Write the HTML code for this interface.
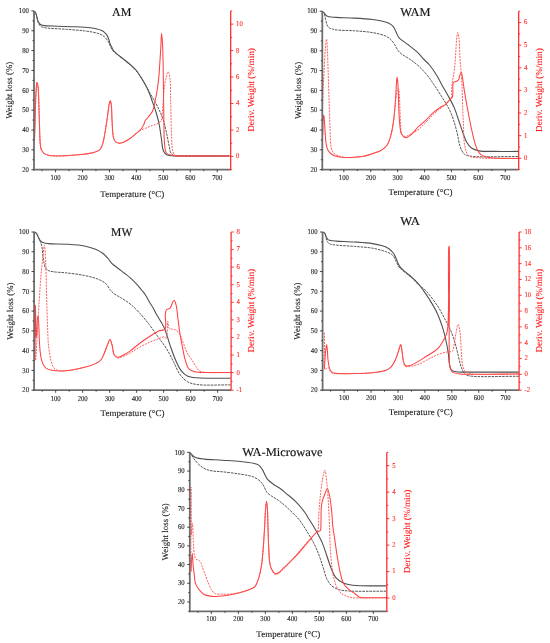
<!DOCTYPE html>
<html><head><meta charset="utf-8"><title>TGA</title>
<style>
html,body{margin:0;padding:0;background:#fff;}
body{width:550px;height:643px;overflow:hidden;}
svg{display:block;}
text{font-family:"Liberation Serif", "DejaVu Serif", serif;text-rendering:geometricPrecision;}
.tl{font-size:7.5px;fill:#222;stroke:#222;stroke-width:0.12px;}
.tr{font-size:7.5px;fill:#ff2020;stroke:#ff3030;stroke-width:0.1px;}
.ti{font-size:12px;fill:#111;stroke:#111;stroke-width:0.15px;}
.al{font-size:8.9px;letter-spacing:0.08px;fill:#1a1a1a;stroke:#1a1a1a;stroke-width:0.1px;}
.ar{font-size:9.2px;fill:#ff2020;stroke:#ff2020;stroke-width:0.1px;}
</style></head>
<body><svg width="550" height="643" viewBox="0 0 550 643">
<path d="M34,11.1C34.33,11.33 34.7,11.46 35,11.8C35.4,12.26 35.7,13.01 36,13.8C36.39,14.83 36.64,16.24 37,17.5C37.38,18.83 37.7,20.5 38.2,21.6C38.58,22.42 39,23.07 39.5,23.6C39.94,24.07 40.36,24.4 41,24.7C41.89,25.12 42.95,25.37 44.5,25.6C47.41,26.04 52.66,26.01 57.3,26.2C62.83,26.42 69.78,26.51 75.5,26.8C80.61,27.06 86.05,27.33 90,27.8C92.76,28.13 95.01,28.51 97,29C98.53,29.38 99.74,29.74 101,30.3C102.24,30.85 103.47,31.41 104.5,32.3C105.59,33.25 106.57,34.65 107.3,35.9C107.97,37.06 108.36,38.26 108.8,39.5C109.26,40.79 109.53,42.25 110,43.5C110.44,44.67 110.94,45.68 111.5,46.8C112.1,48.01 112.71,49.42 113.5,50.5C114.23,51.5 114.91,52.1 116,53.1C117.76,54.7 120.88,56.96 123.3,58.9C125.71,60.83 128.26,62.71 130.5,64.7C132.61,66.58 134.55,68.25 136.4,70.5C138.49,73.04 140.47,76.49 142.2,79.3C143.73,81.79 145.07,84.09 146.3,86.5C147.49,88.82 148.57,91.19 149.5,93.5C150.38,95.69 151.06,97.93 151.8,100C152.49,101.91 153.11,103.52 153.8,105.5C154.6,107.8 155.49,110.25 156.3,113C157.27,116.3 158.3,120.09 159.1,124C160,128.37 160.55,133.41 161.3,138C162.02,142.44 162.13,148.19 163.5,151.1C164.33,152.87 165.33,154.01 166.7,154.8C168.14,155.63 170.04,155.59 172,155.8C174.38,156.05 176.2,155.95 180,156C189.44,156.12 212.87,156 229.3,156" fill="none" stroke="#505050" stroke-width="1.1" stroke-linejoin="round"/>
<path d="M34,11.1C34.33,11.33 34.7,11.46 35,11.8C35.4,12.26 35.7,13 36,13.8C36.4,14.89 36.65,16.41 37,17.8C37.38,19.3 37.7,21.2 38.2,22.5C38.58,23.49 38.99,24.3 39.5,25C39.94,25.6 40.36,26.09 41,26.5C41.79,27 42.9,27.32 44,27.6C45.27,27.92 46.3,28.01 48.2,28.2C52.13,28.6 60.34,28.85 66.4,29.3C72.44,29.75 79.78,30.35 84.5,30.9C87.55,31.26 89.72,31.58 92,32C93.93,32.36 95.71,32.72 97.3,33.2C98.66,33.61 99.81,34.01 101,34.6C102.21,35.2 103.39,35.82 104.5,36.8C105.82,37.98 107.15,39.68 108.2,41.4C109.31,43.23 110,45.77 110.9,47.5C111.6,48.85 112.1,49.97 113,51C113.95,52.08 115.15,52.7 116.5,53.8C118.4,55.34 121,57.52 123.3,59.4C125.66,61.32 128.26,63.21 130.5,65.2C132.61,67.08 134.55,68.77 136.4,71C138.48,73.5 140.45,76.84 142.2,79.6C143.78,82.08 145.14,84.43 146.5,86.8C147.8,89.06 148.94,91.29 150.2,93.5C151.45,95.69 152.67,97.59 154,100C155.61,102.91 157.54,106.41 159.1,109.8C160.71,113.3 162.26,116.86 163.5,120.7C164.82,124.8 165.73,129.36 166.7,133.7C167.66,138.02 168.45,143.11 169.3,146.7C169.91,149.28 170.03,151.82 171.1,153.3C171.9,154.4 173.01,154.97 174.3,155.4C175.87,155.93 177.16,155.69 180,155.8C188.34,156.11 212.87,155.93 229.3,156" fill="none" stroke="#585858" stroke-width="1.0" stroke-linejoin="round" stroke-dasharray="2.6,0.9"/>
<path d="M34.5,140C34.7,133.33 34.91,126.47 35.1,120C35.28,113.89 35.38,107.8 35.6,102.2C35.79,97.2 35.98,91.67 36.3,88C36.5,85.67 36.68,82.33 37,82.3C37.22,82.28 37.59,83.91 37.8,85C38.11,86.59 38.23,88.39 38.4,91C38.72,95.87 38.9,105.84 39.1,112C39.26,116.85 39.35,120.38 39.5,125C39.67,130.29 39.78,137.78 40.1,142C40.29,144.51 40.39,146.43 40.8,148C41.08,149.07 41.44,149.79 41.9,150.6C42.35,151.39 42.89,152.2 43.5,152.8C44.06,153.35 44.61,153.71 45.4,154.1C46.5,154.64 47.97,155.19 49.6,155.5C51.76,155.91 54.19,155.9 57.3,155.9C62.08,155.91 69.45,155.55 75.5,155C81.55,154.45 89.18,153.93 93.6,152.6C96.36,151.77 98.5,150.98 100,149.5C101.33,148.19 101.77,146.6 102.5,144.5C103.6,141.33 104.3,136.47 105.1,132C106.02,126.89 106.87,120.51 107.6,115.5C108.21,111.32 108.61,106.63 109.2,104C109.52,102.59 109.87,100.8 110.2,100.8C110.53,100.8 110.93,102.48 111.2,104C111.83,107.51 111.71,116.09 112.1,121.8C112.46,127.1 112.52,133.59 113.4,137.1C113.89,139.06 114.29,140.48 115.3,141.5C116.24,142.45 117.81,143.06 119.1,143.2C120.35,143.33 121.51,142.9 122.9,142.4C124.8,141.71 127.24,140.36 129.3,139C131.48,137.56 133.62,135.55 135.6,133.9C137.4,132.39 139.29,131.14 140.7,129.5C142.03,127.95 143.13,126.03 143.9,124.4C144.54,123.05 144.51,121.7 145.2,120.5C145.94,119.22 147.22,118.36 148.3,117C149.66,115.3 151.48,113.43 152.6,111C153.98,107.99 154.49,103.76 155.3,100C156.14,96.1 156.9,91.98 157.5,88C158.09,84.11 158.51,80.49 158.9,76.4C159.33,71.82 159.58,66.66 159.9,61.8C160.22,56.96 160.51,52.09 160.8,47.3C161.08,42.59 161.28,33.3 161.6,33.3C161.89,33.3 162.36,40.73 162.6,45C162.89,50.14 162.97,55.97 163.1,62C163.25,68.86 163.31,77.25 163.4,84C163.48,89.76 163.52,94.24 163.6,100C163.69,106.75 163.75,114.75 163.9,122C164.05,129.08 163.85,137.31 164.5,143C164.95,146.97 164.73,150.96 166.5,153C167.99,154.71 170.68,154.88 173.3,155.4C176.63,156.06 179.84,155.87 185,156C195.1,156.26 214.87,156 229.8,156" fill="none" stroke="#ff4040" stroke-width="1.05" stroke-linejoin="round"/>
<path d="M34.5,140C34.7,133.33 34.91,126.47 35.1,120C35.28,113.89 35.38,107.8 35.6,102.2C35.79,97.2 35.98,91.67 36.3,88C36.5,85.67 36.68,82.33 37,82.3C37.22,82.28 37.59,83.91 37.8,85C38.11,86.59 38.23,88.39 38.4,91C38.72,95.87 38.9,105.84 39.1,112C39.26,116.85 39.35,120.38 39.5,125C39.67,130.29 39.78,137.78 40.1,142C40.29,144.51 40.39,146.43 40.8,148C41.08,149.07 41.44,149.79 41.9,150.6C42.35,151.39 42.89,152.2 43.5,152.8C44.06,153.35 44.61,153.71 45.4,154.1C46.5,154.64 47.97,155.19 49.6,155.5C51.76,155.91 54.19,155.9 57.3,155.9C62.08,155.91 69.45,155.55 75.5,155C81.55,154.45 89.18,153.93 93.6,152.6C96.36,151.77 98.5,150.98 100,149.5C101.33,148.19 101.77,146.6 102.5,144.5C103.6,141.33 104.3,136.47 105.1,132C106.02,126.89 106.87,120.51 107.6,115.5C108.21,111.32 108.61,106.63 109.2,104C109.52,102.59 109.87,100.8 110.2,100.8C110.53,100.8 110.93,102.48 111.2,104C111.83,107.51 111.71,116.09 112.1,121.8C112.46,127.1 112.52,133.59 113.4,137.1C113.89,139.06 114.29,140.48 115.3,141.5C116.24,142.45 117.81,143.06 119.1,143.2C120.35,143.33 121.51,142.9 122.9,142.4C124.8,141.71 127.24,140.36 129.3,139C131.48,137.56 133.59,135.44 135.6,133.9C137.37,132.54 138.94,131.17 140.7,130.2C142.34,129.3 144.01,128.93 145.8,128.2C147.82,127.38 150.32,126.14 152.2,125.5C153.61,125.02 154.85,125.02 156,124.5C157.1,124 158.08,123.17 159,122.5C159.83,121.9 160.74,121.69 161.3,120.7C162.28,118.98 162.04,115.56 162.4,112C162.97,106.38 163.43,96.21 164.1,90.2C164.58,85.93 164.91,82.57 165.7,79.3C166.38,76.5 167.58,71.66 168.3,71.7C169.01,71.74 169.59,76.09 170,79.3C170.68,84.65 170.47,93.03 170.7,101C170.98,110.79 171.04,124.51 171.5,133.7C171.83,140.41 171.6,147.34 172.8,151.1C173.45,153.12 173.93,154.51 175.4,155.4C177.44,156.64 180.62,155.86 185,156C194.45,156.29 214.87,156 229.8,156" fill="none" stroke="#ff5555" stroke-width="0.95" stroke-linejoin="round" stroke-dasharray="2,1.1"/>
<line x1="34" y1="10.9" x2="34" y2="170.6" stroke="#6e6e6e" stroke-width="1.8"/>
<line x1="33.1" y1="169.7" x2="230.7" y2="169.7" stroke="#6e6e6e" stroke-width="1.8"/>
<line x1="31.4" y1="169.7" x2="34" y2="169.7" stroke="#333" stroke-width="0.9"/>
<line x1="32.5" y1="159.77" x2="34" y2="159.77" stroke="#333" stroke-width="0.9"/>
<line x1="31.4" y1="149.85" x2="34" y2="149.85" stroke="#333" stroke-width="0.9"/>
<line x1="32.5" y1="139.92" x2="34" y2="139.92" stroke="#333" stroke-width="0.9"/>
<line x1="31.4" y1="130" x2="34" y2="130" stroke="#333" stroke-width="0.9"/>
<line x1="32.5" y1="120.07" x2="34" y2="120.07" stroke="#333" stroke-width="0.9"/>
<line x1="31.4" y1="110.15" x2="34" y2="110.15" stroke="#333" stroke-width="0.9"/>
<line x1="32.5" y1="100.22" x2="34" y2="100.22" stroke="#333" stroke-width="0.9"/>
<line x1="31.4" y1="90.3" x2="34" y2="90.3" stroke="#333" stroke-width="0.9"/>
<line x1="32.5" y1="80.38" x2="34" y2="80.38" stroke="#333" stroke-width="0.9"/>
<line x1="31.4" y1="70.45" x2="34" y2="70.45" stroke="#333" stroke-width="0.9"/>
<line x1="32.5" y1="60.53" x2="34" y2="60.53" stroke="#333" stroke-width="0.9"/>
<line x1="31.4" y1="50.6" x2="34" y2="50.6" stroke="#333" stroke-width="0.9"/>
<line x1="32.5" y1="40.68" x2="34" y2="40.68" stroke="#333" stroke-width="0.9"/>
<line x1="31.4" y1="30.75" x2="34" y2="30.75" stroke="#333" stroke-width="0.9"/>
<line x1="32.5" y1="20.83" x2="34" y2="20.83" stroke="#333" stroke-width="0.9"/>
<line x1="31.4" y1="10.9" x2="34" y2="10.9" stroke="#333" stroke-width="0.9"/>
<text x="28.9" y="171.9" text-anchor="end" class="tl" textLength="6.7" lengthAdjust="spacingAndGlyphs">20</text>
<text x="28.9" y="152.05" text-anchor="end" class="tl" textLength="6.7" lengthAdjust="spacingAndGlyphs">30</text>
<text x="28.9" y="132.2" text-anchor="end" class="tl" textLength="6.7" lengthAdjust="spacingAndGlyphs">40</text>
<text x="28.9" y="112.35" text-anchor="end" class="tl" textLength="6.7" lengthAdjust="spacingAndGlyphs">50</text>
<text x="28.9" y="92.5" text-anchor="end" class="tl" textLength="6.7" lengthAdjust="spacingAndGlyphs">60</text>
<text x="28.9" y="72.65" text-anchor="end" class="tl" textLength="6.7" lengthAdjust="spacingAndGlyphs">70</text>
<text x="28.9" y="52.8" text-anchor="end" class="tl" textLength="6.7" lengthAdjust="spacingAndGlyphs">80</text>
<text x="28.9" y="32.95" text-anchor="end" class="tl" textLength="6.7" lengthAdjust="spacingAndGlyphs">90</text>
<text x="28.9" y="13.1" text-anchor="end" class="tl" textLength="10.05" lengthAdjust="spacingAndGlyphs">100</text>
<line x1="42.08" y1="169.7" x2="42.08" y2="171.2" stroke="#333" stroke-width="0.9"/>
<line x1="55.56" y1="169.7" x2="55.56" y2="172.3" stroke="#333" stroke-width="0.9"/>
<text x="55.56" y="180" text-anchor="middle" class="tl" textLength="10.05" lengthAdjust="spacingAndGlyphs">100</text>
<line x1="69.03" y1="169.7" x2="69.03" y2="171.2" stroke="#333" stroke-width="0.9"/>
<line x1="82.5" y1="169.7" x2="82.5" y2="172.3" stroke="#333" stroke-width="0.9"/>
<text x="82.5" y="180" text-anchor="middle" class="tl" textLength="10.05" lengthAdjust="spacingAndGlyphs">200</text>
<line x1="95.97" y1="169.7" x2="95.97" y2="171.2" stroke="#333" stroke-width="0.9"/>
<line x1="109.45" y1="169.7" x2="109.45" y2="172.3" stroke="#333" stroke-width="0.9"/>
<text x="109.45" y="180" text-anchor="middle" class="tl" textLength="10.05" lengthAdjust="spacingAndGlyphs">300</text>
<line x1="122.92" y1="169.7" x2="122.92" y2="171.2" stroke="#333" stroke-width="0.9"/>
<line x1="136.39" y1="169.7" x2="136.39" y2="172.3" stroke="#333" stroke-width="0.9"/>
<text x="136.39" y="180" text-anchor="middle" class="tl" textLength="10.05" lengthAdjust="spacingAndGlyphs">400</text>
<line x1="149.86" y1="169.7" x2="149.86" y2="171.2" stroke="#333" stroke-width="0.9"/>
<line x1="163.34" y1="169.7" x2="163.34" y2="172.3" stroke="#333" stroke-width="0.9"/>
<text x="163.34" y="180" text-anchor="middle" class="tl" textLength="10.05" lengthAdjust="spacingAndGlyphs">500</text>
<line x1="176.81" y1="169.7" x2="176.81" y2="171.2" stroke="#333" stroke-width="0.9"/>
<line x1="190.28" y1="169.7" x2="190.28" y2="172.3" stroke="#333" stroke-width="0.9"/>
<text x="190.28" y="180" text-anchor="middle" class="tl" textLength="10.05" lengthAdjust="spacingAndGlyphs">600</text>
<line x1="203.75" y1="169.7" x2="203.75" y2="171.2" stroke="#333" stroke-width="0.9"/>
<line x1="217.23" y1="169.7" x2="217.23" y2="172.3" stroke="#333" stroke-width="0.9"/>
<text x="217.23" y="180" text-anchor="middle" class="tl" textLength="10.05" lengthAdjust="spacingAndGlyphs">700</text>
<line x1="230.7" y1="10.9" x2="230.7" y2="169.7" stroke="#ff2020" stroke-width="1.2"/>
<line x1="230.7" y1="169.7" x2="232.2" y2="169.7" stroke="#ff2020" stroke-width="0.9"/>
<line x1="230.7" y1="156.47" x2="233.3" y2="156.47" stroke="#ff2020" stroke-width="0.9"/>
<line x1="230.7" y1="143.23" x2="232.2" y2="143.23" stroke="#ff2020" stroke-width="0.9"/>
<line x1="230.7" y1="130" x2="233.3" y2="130" stroke="#ff2020" stroke-width="0.9"/>
<line x1="230.7" y1="116.77" x2="232.2" y2="116.77" stroke="#ff2020" stroke-width="0.9"/>
<line x1="230.7" y1="103.53" x2="233.3" y2="103.53" stroke="#ff2020" stroke-width="0.9"/>
<line x1="230.7" y1="90.3" x2="232.2" y2="90.3" stroke="#ff2020" stroke-width="0.9"/>
<line x1="230.7" y1="77.07" x2="233.3" y2="77.07" stroke="#ff2020" stroke-width="0.9"/>
<line x1="230.7" y1="63.83" x2="232.2" y2="63.83" stroke="#ff2020" stroke-width="0.9"/>
<line x1="230.7" y1="50.6" x2="233.3" y2="50.6" stroke="#ff2020" stroke-width="0.9"/>
<line x1="230.7" y1="37.37" x2="232.2" y2="37.37" stroke="#ff2020" stroke-width="0.9"/>
<line x1="230.7" y1="24.13" x2="233.3" y2="24.13" stroke="#ff2020" stroke-width="0.9"/>
<line x1="230.7" y1="10.9" x2="232.2" y2="10.9" stroke="#ff2020" stroke-width="0.9"/>
<text x="236.1" y="158.37" class="tr" textLength="3.35" lengthAdjust="spacingAndGlyphs">0</text>
<text x="236.1" y="131.9" class="tr" textLength="3.35" lengthAdjust="spacingAndGlyphs">2</text>
<text x="236.1" y="105.43" class="tr" textLength="3.35" lengthAdjust="spacingAndGlyphs">4</text>
<text x="236.1" y="78.97" class="tr" textLength="3.35" lengthAdjust="spacingAndGlyphs">6</text>
<text x="236.1" y="52.5" class="tr" textLength="3.35" lengthAdjust="spacingAndGlyphs">8</text>
<text x="236.1" y="26.03" class="tr" textLength="6.7" lengthAdjust="spacingAndGlyphs">10</text>
<text x="121.7" y="16.3" text-anchor="middle" class="ti" textLength="19.3" lengthAdjust="spacingAndGlyphs">AM</text>
<text transform="translate(12.4,90.3) rotate(-90)" text-anchor="middle" class="al" textLength="57.1" lengthAdjust="spacingAndGlyphs">Weight loss (%)</text>
<text transform="translate(253.7,90) rotate(-90)" text-anchor="middle" class="ar" textLength="83.6" lengthAdjust="spacingAndGlyphs">Deriv. Weight (%/min)</text>
<text x="132.35" y="196.7" text-anchor="middle" class="al" textLength="64" lengthAdjust="spacingAndGlyphs">Temperature (&#176;C)</text>
<path d="M322.3,11.3C323,11.93 323.75,12.51 324.4,13.2C325.06,13.9 325.46,14.9 326.2,15.5C326.95,16.11 327.74,16.49 328.9,16.8C330.71,17.29 333.22,17.22 336.2,17.4C340.9,17.68 348.35,17.75 354.4,18.1C360.45,18.45 367.5,18.9 372.5,19.5C376.06,19.93 378.75,20.34 381.6,21C384.19,21.6 386.83,22.13 388.9,23.2C390.71,24.14 392.29,25.31 393.5,26.8C394.74,28.33 395.3,30.48 396.2,32.3C397.1,34.11 397.67,36.18 398.9,37.7C400.11,39.21 401.89,40.17 403.5,41.4C405.21,42.71 406.89,43.75 408.9,45.3C411.57,47.36 415.41,50.32 418,52.8C420.18,54.88 421.69,56.97 423.6,59C425.52,61.04 427.51,62.6 429.5,65C432,68.03 434.94,72.46 437.1,76C438.99,79.09 440.15,81.83 441.9,85C443.9,88.61 446.42,92.65 448.5,96.5C450.55,100.28 452.58,103.89 454.3,107.9C456.11,112.13 457.51,117.01 459,121.3C460.37,125.25 461.56,129.08 462.9,132.7C464.14,136.05 465.1,139.62 466.7,142.3C468.06,144.58 469.5,146.58 471.5,148C473.59,149.49 476.07,150.29 479.1,150.9C483.26,151.74 488.74,151.31 494.4,151.4C501.46,151.52 510.27,151.4 518.2,151.4" fill="none" stroke="#505050" stroke-width="1.1" stroke-linejoin="round"/>
<path d="M322.3,11.3C323,12.23 323.87,12.95 324.4,14.1C325.07,15.55 325.15,17.7 325.6,19.5C326.05,21.33 326.43,23.53 327.1,25C327.6,26.11 328.06,27.04 328.9,27.7C329.81,28.42 331.28,28.63 332.5,29C333.72,29.37 334.48,29.65 336.2,29.9C339.95,30.44 348.35,30.35 354.4,30.8C360.45,31.25 367.02,31.63 372.5,32.6C377.17,33.43 382.03,34.44 385.3,35.9C387.59,36.92 389.16,38.09 390.7,39.5C392.17,40.84 393.24,42.39 394.4,44.1C395.69,46.01 396.67,48.74 398,50.5C399.11,51.96 400.11,52.92 401.6,54.1C403.54,55.63 406.38,56.87 408.9,58.6C411.81,60.6 415.04,62.84 418,65.5C421.26,68.43 424.71,72.2 427.5,75.6C430.05,78.7 431.87,81.56 434.2,85C436.94,89.04 440.15,94.09 442.8,98.4C445.21,102.33 447.69,106.09 449.5,109.8C451.1,113.07 452.11,115.91 453.3,119.4C454.67,123.44 455.98,128.24 457.1,132.7C458.21,137.14 458.67,142.33 460,146.1C461.04,149.07 462.01,152.05 463.8,153.7C465.32,155.1 466.59,155.42 469.5,156C477.7,157.64 501.97,156.4 518.2,156.6" fill="none" stroke="#585858" stroke-width="1.0" stroke-linejoin="round" stroke-dasharray="2.6,0.9"/>
<path d="M322.8,135C322.93,129.33 322.83,121.34 323.2,118C323.36,116.58 323.62,114.99 323.8,115C324.08,115.01 324.29,119.49 324.5,122C324.74,124.9 324.86,128.07 325.1,131.4C325.38,135.18 325.47,140.03 326.1,143.5C326.59,146.21 326.97,148.67 328.1,150.6C329.1,152.31 330.56,153.69 332.2,154.7C333.93,155.76 336.17,156.23 338.3,156.7C340.53,157.19 342.81,157.39 345.3,157.5C348.13,157.63 351.37,157.5 354.4,157.3C357.44,157.1 360.5,156.89 363.5,156.3C366.53,155.7 369.52,154.72 372.5,153.7C375.55,152.66 379.07,151.7 381.6,150.1C383.82,148.7 385.63,147.15 387.1,145C388.78,142.55 389.7,139.34 390.7,135.9C391.93,131.68 392.75,126.53 393.5,121.4C394.33,115.7 394.82,109.35 395.3,103.2C395.79,96.89 396.02,88.82 396.4,84C396.63,81.09 396.85,77 397.1,77C397.35,77 397.64,80.74 397.9,84C398.49,91.52 398.55,112.24 399.5,121.4C400.06,126.77 400.14,131.3 401.6,134.1C402.53,135.87 403.86,137.48 405.3,137.7C406.86,137.94 408.89,136.37 410.7,135C413.12,133.17 415.47,129.48 418,127C420.44,124.6 423.09,122.64 425.6,120.3C428.19,117.88 430.66,114.97 433.3,112.7C435.77,110.57 438.7,108.37 440.9,107C442.43,106.04 443.66,105.92 445,104.9C446.68,103.61 448.52,100.94 449.9,99.5C450.86,98.49 451.81,98.33 452.4,97C453.55,94.39 452.29,85.5 453,83.4C453.24,82.68 453.46,82.41 453.9,82.1C454.43,81.73 455.37,81.85 456.1,81.5C456.94,81.1 458.02,80.54 458.6,79.7C459.26,78.75 459.14,77.14 459.6,75.9C460.07,74.63 460.94,72.14 461.4,72.2C461.91,72.27 462.05,75.16 462.4,77.2C462.95,80.4 463.5,85.18 464.2,89.6C465,94.69 465.91,100.09 467,106C468.29,113.01 469.98,122.05 471.5,128.9C472.75,134.53 473.82,139.88 475.3,144.2C476.44,147.53 477.32,150.68 479.1,152.8C480.62,154.61 482.54,155.72 484.8,156.6C487.49,157.65 490.46,157.76 494.4,158.1C500.62,158.63 510.53,158.37 518.6,158.5" fill="none" stroke="#ff4040" stroke-width="1.05" stroke-linejoin="round"/>
<path d="M322.5,107C322.7,101.6 322.85,96.5 323.1,90.8C323.38,84.41 323.73,77.28 324.1,70.5C324.47,63.68 324.81,55.76 325.3,50C325.65,45.79 326.15,39.1 326.5,39.1C326.85,39.1 327.15,45.79 327.4,50C327.74,55.76 327.85,62.99 328.1,70.5C328.41,79.66 328.75,90.84 329.1,101C329.45,111.14 329.78,122.85 330.2,131.4C330.51,137.65 330.13,143.57 331.2,147.6C331.89,150.21 332.83,152.34 334.2,153.7C335.32,154.82 336.72,155.12 338.3,155.7C340.29,156.43 342.79,157.21 345.3,157.5C348.11,157.82 351.37,157.5 354.4,157.3C357.44,157.1 360.5,156.89 363.5,156.3C366.53,155.7 369.52,154.72 372.5,153.7C375.55,152.66 379.07,151.7 381.6,150.1C383.82,148.7 385.63,147.15 387.1,145C388.78,142.55 389.7,139.34 390.7,135.9C391.93,131.68 392.75,126.53 393.5,121.4C394.33,115.7 394.71,108.39 395.3,103.2C395.74,99.31 396.11,95.61 396.6,93C396.91,91.35 397.05,89.58 397.6,89C397.88,88.71 398.34,88.53 398.6,88.7C399.19,89.08 399.11,91.81 399.3,94C399.61,97.55 399.69,103.18 399.9,108C400.12,113.16 400.27,119.23 400.6,124C400.87,127.87 400.27,132.5 401.6,134.5C402.44,135.76 403.94,136.46 405.3,136.5C406.92,136.55 408.78,134.98 410.7,134C412.97,132.84 415.65,131.65 418,129.9C420.64,127.92 423.08,125.04 425.6,122.5C428.18,119.91 430.68,116.97 433.3,114.5C435.79,112.16 438.73,109.72 440.9,108C442.45,106.77 443.62,106.19 445,105C446.62,103.6 448.81,101.25 449.9,100C450.5,99.31 450.87,99.19 451.2,98.3C451.95,96.26 451.51,90.44 451.8,87.1C452.04,84.37 452.34,81.92 452.7,79.7C452.99,77.86 453.39,76.66 453.7,74.7C454.14,71.97 454.56,68.45 454.9,64.8C455.32,60.32 455.57,54.56 455.9,49.8C456.2,45.47 456.36,40.58 456.8,37.4C457.08,35.38 457.45,32.5 457.8,32.5C458.15,32.5 458.6,35.22 458.9,37.4C459.48,41.6 459.52,50.1 459.9,56.1C460.26,61.67 460.73,66.94 461.1,72.2C461.46,77.26 461.85,81.91 462.1,87.1C462.37,92.77 462.39,98.93 462.6,104.9C462.82,110.96 463.06,116.76 463.4,123.2C463.78,130.41 463.48,140.2 464.8,146.1C465.68,150.04 466.17,153.61 468.6,155.6C471.3,157.81 475.72,157.39 481,157.9C490.12,158.79 506.07,158.17 518.6,158.3" fill="none" stroke="#ff5555" stroke-width="0.95" stroke-linejoin="round" stroke-dasharray="2,1.1"/>
<line x1="322.3" y1="11.2" x2="322.3" y2="170.5" stroke="#6e6e6e" stroke-width="1.8"/>
<line x1="321.4" y1="169.6" x2="518.7" y2="169.6" stroke="#6e6e6e" stroke-width="1.8"/>
<line x1="319.7" y1="169.6" x2="322.3" y2="169.6" stroke="#333" stroke-width="0.9"/>
<line x1="320.8" y1="159.7" x2="322.3" y2="159.7" stroke="#333" stroke-width="0.9"/>
<line x1="319.7" y1="149.8" x2="322.3" y2="149.8" stroke="#333" stroke-width="0.9"/>
<line x1="320.8" y1="139.9" x2="322.3" y2="139.9" stroke="#333" stroke-width="0.9"/>
<line x1="319.7" y1="130" x2="322.3" y2="130" stroke="#333" stroke-width="0.9"/>
<line x1="320.8" y1="120.1" x2="322.3" y2="120.1" stroke="#333" stroke-width="0.9"/>
<line x1="319.7" y1="110.2" x2="322.3" y2="110.2" stroke="#333" stroke-width="0.9"/>
<line x1="320.8" y1="100.3" x2="322.3" y2="100.3" stroke="#333" stroke-width="0.9"/>
<line x1="319.7" y1="90.4" x2="322.3" y2="90.4" stroke="#333" stroke-width="0.9"/>
<line x1="320.8" y1="80.5" x2="322.3" y2="80.5" stroke="#333" stroke-width="0.9"/>
<line x1="319.7" y1="70.6" x2="322.3" y2="70.6" stroke="#333" stroke-width="0.9"/>
<line x1="320.8" y1="60.7" x2="322.3" y2="60.7" stroke="#333" stroke-width="0.9"/>
<line x1="319.7" y1="50.8" x2="322.3" y2="50.8" stroke="#333" stroke-width="0.9"/>
<line x1="320.8" y1="40.9" x2="322.3" y2="40.9" stroke="#333" stroke-width="0.9"/>
<line x1="319.7" y1="31" x2="322.3" y2="31" stroke="#333" stroke-width="0.9"/>
<line x1="320.8" y1="21.1" x2="322.3" y2="21.1" stroke="#333" stroke-width="0.9"/>
<line x1="319.7" y1="11.2" x2="322.3" y2="11.2" stroke="#333" stroke-width="0.9"/>
<text x="317.2" y="171.8" text-anchor="end" class="tl" textLength="6.7" lengthAdjust="spacingAndGlyphs">20</text>
<text x="317.2" y="152" text-anchor="end" class="tl" textLength="6.7" lengthAdjust="spacingAndGlyphs">30</text>
<text x="317.2" y="132.2" text-anchor="end" class="tl" textLength="6.7" lengthAdjust="spacingAndGlyphs">40</text>
<text x="317.2" y="112.4" text-anchor="end" class="tl" textLength="6.7" lengthAdjust="spacingAndGlyphs">50</text>
<text x="317.2" y="92.6" text-anchor="end" class="tl" textLength="6.7" lengthAdjust="spacingAndGlyphs">60</text>
<text x="317.2" y="72.8" text-anchor="end" class="tl" textLength="6.7" lengthAdjust="spacingAndGlyphs">70</text>
<text x="317.2" y="53" text-anchor="end" class="tl" textLength="6.7" lengthAdjust="spacingAndGlyphs">80</text>
<text x="317.2" y="33.2" text-anchor="end" class="tl" textLength="6.7" lengthAdjust="spacingAndGlyphs">90</text>
<text x="317.2" y="13.4" text-anchor="end" class="tl" textLength="10.05" lengthAdjust="spacingAndGlyphs">100</text>
<line x1="330.37" y1="169.6" x2="330.37" y2="171.1" stroke="#333" stroke-width="0.9"/>
<line x1="343.82" y1="169.6" x2="343.82" y2="172.2" stroke="#333" stroke-width="0.9"/>
<text x="343.82" y="179.9" text-anchor="middle" class="tl" textLength="10.05" lengthAdjust="spacingAndGlyphs">100</text>
<line x1="357.28" y1="169.6" x2="357.28" y2="171.1" stroke="#333" stroke-width="0.9"/>
<line x1="370.73" y1="169.6" x2="370.73" y2="172.2" stroke="#333" stroke-width="0.9"/>
<text x="370.73" y="179.9" text-anchor="middle" class="tl" textLength="10.05" lengthAdjust="spacingAndGlyphs">200</text>
<line x1="384.18" y1="169.6" x2="384.18" y2="171.1" stroke="#333" stroke-width="0.9"/>
<line x1="397.63" y1="169.6" x2="397.63" y2="172.2" stroke="#333" stroke-width="0.9"/>
<text x="397.63" y="179.9" text-anchor="middle" class="tl" textLength="10.05" lengthAdjust="spacingAndGlyphs">300</text>
<line x1="411.08" y1="169.6" x2="411.08" y2="171.1" stroke="#333" stroke-width="0.9"/>
<line x1="424.54" y1="169.6" x2="424.54" y2="172.2" stroke="#333" stroke-width="0.9"/>
<text x="424.54" y="179.9" text-anchor="middle" class="tl" textLength="10.05" lengthAdjust="spacingAndGlyphs">400</text>
<line x1="437.99" y1="169.6" x2="437.99" y2="171.1" stroke="#333" stroke-width="0.9"/>
<line x1="451.44" y1="169.6" x2="451.44" y2="172.2" stroke="#333" stroke-width="0.9"/>
<text x="451.44" y="179.9" text-anchor="middle" class="tl" textLength="10.05" lengthAdjust="spacingAndGlyphs">500</text>
<line x1="464.89" y1="169.6" x2="464.89" y2="171.1" stroke="#333" stroke-width="0.9"/>
<line x1="478.34" y1="169.6" x2="478.34" y2="172.2" stroke="#333" stroke-width="0.9"/>
<text x="478.34" y="179.9" text-anchor="middle" class="tl" textLength="10.05" lengthAdjust="spacingAndGlyphs">600</text>
<line x1="491.8" y1="169.6" x2="491.8" y2="171.1" stroke="#333" stroke-width="0.9"/>
<line x1="505.25" y1="169.6" x2="505.25" y2="172.2" stroke="#333" stroke-width="0.9"/>
<text x="505.25" y="179.9" text-anchor="middle" class="tl" textLength="10.05" lengthAdjust="spacingAndGlyphs">700</text>
<line x1="518.7" y1="11.2" x2="518.7" y2="169.6" stroke="#ff2020" stroke-width="1.2"/>
<line x1="518.7" y1="169.6" x2="520.2" y2="169.6" stroke="#ff2020" stroke-width="0.9"/>
<line x1="518.7" y1="158.29" x2="521.3" y2="158.29" stroke="#ff2020" stroke-width="0.9"/>
<line x1="518.7" y1="146.97" x2="520.2" y2="146.97" stroke="#ff2020" stroke-width="0.9"/>
<line x1="518.7" y1="135.66" x2="521.3" y2="135.66" stroke="#ff2020" stroke-width="0.9"/>
<line x1="518.7" y1="124.34" x2="520.2" y2="124.34" stroke="#ff2020" stroke-width="0.9"/>
<line x1="518.7" y1="113.03" x2="521.3" y2="113.03" stroke="#ff2020" stroke-width="0.9"/>
<line x1="518.7" y1="101.71" x2="520.2" y2="101.71" stroke="#ff2020" stroke-width="0.9"/>
<line x1="518.7" y1="90.4" x2="521.3" y2="90.4" stroke="#ff2020" stroke-width="0.9"/>
<line x1="518.7" y1="79.09" x2="520.2" y2="79.09" stroke="#ff2020" stroke-width="0.9"/>
<line x1="518.7" y1="67.77" x2="521.3" y2="67.77" stroke="#ff2020" stroke-width="0.9"/>
<line x1="518.7" y1="56.46" x2="520.2" y2="56.46" stroke="#ff2020" stroke-width="0.9"/>
<line x1="518.7" y1="45.14" x2="521.3" y2="45.14" stroke="#ff2020" stroke-width="0.9"/>
<line x1="518.7" y1="33.83" x2="520.2" y2="33.83" stroke="#ff2020" stroke-width="0.9"/>
<line x1="518.7" y1="22.51" x2="521.3" y2="22.51" stroke="#ff2020" stroke-width="0.9"/>
<line x1="518.7" y1="11.2" x2="520.2" y2="11.2" stroke="#ff2020" stroke-width="0.9"/>
<text x="524.1" y="160.19" class="tr" textLength="3.35" lengthAdjust="spacingAndGlyphs">0</text>
<text x="524.1" y="137.56" class="tr" textLength="3.35" lengthAdjust="spacingAndGlyphs">1</text>
<text x="524.1" y="114.93" class="tr" textLength="3.35" lengthAdjust="spacingAndGlyphs">2</text>
<text x="524.1" y="92.3" class="tr" textLength="3.35" lengthAdjust="spacingAndGlyphs">3</text>
<text x="524.1" y="69.67" class="tr" textLength="3.35" lengthAdjust="spacingAndGlyphs">4</text>
<text x="524.1" y="47.04" class="tr" textLength="3.35" lengthAdjust="spacingAndGlyphs">5</text>
<text x="524.1" y="24.41" class="tr" textLength="3.35" lengthAdjust="spacingAndGlyphs">6</text>
<text x="415.3" y="16.3" text-anchor="middle" class="ti" textLength="30.2" lengthAdjust="spacingAndGlyphs">WAM</text>
<text transform="translate(300.7,90.4) rotate(-90)" text-anchor="middle" class="al" textLength="57.1" lengthAdjust="spacingAndGlyphs">Weight loss (%)</text>
<text transform="translate(541.7,90.1) rotate(-90)" text-anchor="middle" class="ar" textLength="83.6" lengthAdjust="spacingAndGlyphs">Deriv. Weight (%/min)</text>
<text x="420.5" y="195.3" text-anchor="middle" class="al" textLength="64" lengthAdjust="spacingAndGlyphs">Temperature (&#176;C)</text>
<path d="M34.1,231.9C34.87,232.37 35.76,232.6 36.4,233.3C37.19,234.15 37.59,235.72 38.2,236.9C38.79,238.05 39.22,239.34 40,240.3C40.76,241.23 41.63,242.06 42.8,242.6C44.24,243.27 45.86,243.35 48.2,243.6C52.47,244.06 60.35,243.8 66.4,244.2C72.45,244.6 79.26,244.96 84.5,246C88.67,246.82 92.28,247.94 95.5,249.3C98.22,250.45 100.56,251.7 102.7,253.3C104.77,254.85 106.61,256.92 108.2,258.7C109.58,260.25 110.38,261.85 111.8,263.3C113.37,264.9 115.33,266.24 117.3,267.8C119.53,269.56 122.27,271.57 124.5,273.3C126.46,274.82 128.07,275.9 130,277.6C132.39,279.72 135.53,282.91 137.6,285.2C139.17,286.94 140.21,288.41 141.5,290C142.78,291.57 144.1,292.93 145.3,294.7C146.66,296.71 147.8,299.32 149.1,301.5C150.34,303.58 151.68,305.37 152.9,307.5C154.22,309.79 155.18,312.02 156.7,314.8C158.79,318.61 162.22,323.34 164.4,328.2C166.76,333.47 168.14,339.86 170.1,345.4C171.95,350.64 173.73,356.06 175.8,360.6C177.58,364.49 179.3,368.43 181.5,371.1C183.25,373.22 184.96,374.79 187.3,375.9C189.95,377.16 192.63,377.36 196.8,377.8C204.58,378.62 219.33,378.07 230.6,378.2" fill="none" stroke="#505050" stroke-width="1.1" stroke-linejoin="round"/>
<path d="M34.1,231.9C34.87,232.37 35.76,232.6 36.4,233.3C37.19,234.15 37.61,235.67 38.2,236.9C38.81,238.17 39.43,239.39 40,240.8C40.64,242.39 41.35,244 41.8,246C42.38,248.56 42.41,252.14 42.8,255C43.15,257.62 43.51,260.21 44,262.5C44.43,264.49 44.66,266.61 45.5,268C46.18,269.12 47.05,269.88 48.2,270.5C49.62,271.26 51.4,271.44 53.6,271.8C56.94,272.34 61.77,272.37 66.4,272.9C71.92,273.53 78.83,274.3 84.5,275.5C89.67,276.59 95.17,277.85 99.1,279.6C102.07,280.92 104.53,282.38 106.4,284.2C108.02,285.78 108.72,288.02 110,289.6C111.14,291.01 112.1,292.1 113.6,293.3C115.53,294.85 118.35,296.17 120.9,297.8C123.78,299.64 127.04,301.44 130,303.8C133.25,306.4 136.41,309.6 139.5,312.9C142.79,316.43 145.98,320.37 149.1,324.4C152.36,328.61 155.59,333.52 158.6,337.7C161.29,341.44 163.87,344.42 166.3,348.3C169,352.6 171.58,358 173.9,362.5C175.97,366.52 177.23,370.73 179.6,374C181.77,377.01 184.36,379.85 187.3,381.6C190.12,383.28 192.6,383.85 196.8,384.5C204.55,385.7 219.33,384.77 230.6,384.9" fill="none" stroke="#585858" stroke-width="1.0" stroke-linejoin="round" stroke-dasharray="2.6,0.9"/>
<path d="M35,360C35.17,341.67 35.26,305 35.5,305C35.69,305 35.77,337.98 36.2,338C36.37,338.01 36.62,335.12 36.8,333C37.1,329.34 37.05,320.66 37.5,318C37.67,317.01 37.93,315.98 38.1,316C38.46,316.04 38.61,321.65 38.8,325C39.04,329.22 39.06,334.68 39.3,339.3C39.53,343.66 39.75,348.24 40.2,352C40.57,355.04 40.94,357.86 41.6,360.2C42.12,362.04 42.67,363.59 43.5,365C44.27,366.3 45.06,367.55 46.3,368.4C47.73,369.37 49.71,369.78 51.8,370.2C54.43,370.72 57.73,370.91 60.9,370.9C64.37,370.89 68.05,370.55 71.8,370C75.89,369.4 80.45,368.41 84.5,367.3C88.33,366.25 92.55,365.05 95.5,363.6C97.7,362.52 99.44,361.66 100.9,360C102.53,358.14 103.42,355.15 104.5,352.7C105.55,350.31 106.34,347.77 107.3,345.5C108.18,343.42 109.18,339.57 110,339.6C110.81,339.63 111.57,343.3 112.2,345.5C112.96,348.16 112.81,352.47 114,354.5C114.82,355.89 115.98,357.05 117.3,357.3C118.81,357.59 120.82,356.37 122.7,355.5C125.01,354.44 127.47,352.86 130,351.1C133.03,348.99 136.29,345.9 139.5,343.5C142.65,341.14 145.88,338.91 149.1,336.8C152.24,334.75 155.67,332.3 158.6,331C160.87,329.99 163.71,330.79 165,329.1C166.88,326.64 164.92,318.5 165.3,315C165.53,312.9 165.42,311.16 166.3,310C167.11,308.94 169.06,309.19 170.1,308.1C171.45,306.68 172.07,302.68 173,301.5C173.44,300.94 173.89,300.39 174.3,300.5C175.02,300.7 175.69,303.32 176.2,305.3C176.97,308.25 177.14,312.51 177.7,316.7C178.38,321.85 179.14,328.53 180,333.9C180.76,338.66 181.6,342.85 182.5,347.3C183.4,351.75 184.13,356.7 185.4,360.6C186.46,363.84 187.34,367.35 189.2,369.2C190.71,370.71 192.61,371.14 194.9,371.7C198.01,372.47 201.84,372.34 206.4,372.5C213.08,372.73 222.87,372.5 231.1,372.5" fill="none" stroke="#ff4040" stroke-width="1.05" stroke-linejoin="round"/>
<path d="M35.8,360.2C36.37,350.13 36.92,340.07 37.5,330C38.08,319.93 38.69,309.37 39.3,299.8C39.86,291.13 40.35,282.5 41,275C41.54,268.77 42.19,263.19 42.8,257.9C43.33,253.32 43.94,245.09 44.4,245.1C44.97,245.12 45.44,257.37 45.8,264.9C46.28,274.89 46.39,289.11 46.7,299.8C46.96,308.88 47.16,316.95 47.5,325C47.81,332.4 47.92,339.97 48.6,346.3C49.16,351.44 49.98,356.5 50.9,360.2C51.53,362.74 52.06,364.85 53,366.5C53.72,367.77 54.44,368.78 55.6,369.5C56.96,370.35 58.8,370.71 60.9,370.9C63.87,371.16 68.05,370.55 71.8,370C75.89,369.4 80.45,368.41 84.5,367.3C88.33,366.25 92.55,365.05 95.5,363.6C97.7,362.52 99.44,361.66 100.9,360C102.53,358.14 103.42,355.15 104.5,352.7C105.55,350.31 106.34,347.77 107.3,345.5C108.18,343.42 109.18,339.57 110,339.6C110.81,339.63 111.57,343.3 112.2,345.5C112.96,348.16 112.85,352.35 114,354.5C114.82,356.03 115.94,357.42 117.3,357.8C118.79,358.22 120.8,357.17 122.7,356.5C124.99,355.69 127.44,354.38 130,353C132.99,351.39 136.29,349.06 139.5,347.3C142.66,345.57 145.88,343.95 149.1,342.5C152.25,341.09 155.81,339.71 158.6,338.7C160.76,337.92 163.06,336.48 164.4,336.8C165.29,337.01 165.79,338.89 166.3,338.7C167.59,338.23 167.18,321.53 167.8,321.5C168.19,321.48 168.06,327.04 169.1,328.2C169.8,328.98 170.96,328.8 172,329.1C173.18,329.44 174.62,329.42 175.8,330.1C177.18,330.89 178.47,332.2 179.6,333.9C181.17,336.26 182.21,340.31 183.5,343.5C184.78,346.67 185.88,350.3 187.3,353C188.46,355.21 189.78,356.65 191.1,358.7C192.62,361.06 194.33,364.19 195.9,366.4C197.18,368.2 198.03,370.08 199.7,371.1C201.48,372.19 203.44,372.19 206.4,372.5C212.02,373.08 222.87,372.5 231.1,372.5" fill="none" stroke="#ff5555" stroke-width="0.95" stroke-linejoin="round" stroke-dasharray="2,1.1"/>
<line x1="34.1" y1="232" x2="34.1" y2="391.1" stroke="#6e6e6e" stroke-width="1.8"/>
<line x1="33.2" y1="390.2" x2="231.1" y2="390.2" stroke="#6e6e6e" stroke-width="1.8"/>
<line x1="31.5" y1="390.2" x2="34.1" y2="390.2" stroke="#333" stroke-width="0.9"/>
<line x1="32.6" y1="380.31" x2="34.1" y2="380.31" stroke="#333" stroke-width="0.9"/>
<line x1="31.5" y1="370.43" x2="34.1" y2="370.43" stroke="#333" stroke-width="0.9"/>
<line x1="32.6" y1="360.54" x2="34.1" y2="360.54" stroke="#333" stroke-width="0.9"/>
<line x1="31.5" y1="350.65" x2="34.1" y2="350.65" stroke="#333" stroke-width="0.9"/>
<line x1="32.6" y1="340.76" x2="34.1" y2="340.76" stroke="#333" stroke-width="0.9"/>
<line x1="31.5" y1="330.88" x2="34.1" y2="330.88" stroke="#333" stroke-width="0.9"/>
<line x1="32.6" y1="320.99" x2="34.1" y2="320.99" stroke="#333" stroke-width="0.9"/>
<line x1="31.5" y1="311.1" x2="34.1" y2="311.1" stroke="#333" stroke-width="0.9"/>
<line x1="32.6" y1="301.21" x2="34.1" y2="301.21" stroke="#333" stroke-width="0.9"/>
<line x1="31.5" y1="291.32" x2="34.1" y2="291.32" stroke="#333" stroke-width="0.9"/>
<line x1="32.6" y1="281.44" x2="34.1" y2="281.44" stroke="#333" stroke-width="0.9"/>
<line x1="31.5" y1="271.55" x2="34.1" y2="271.55" stroke="#333" stroke-width="0.9"/>
<line x1="32.6" y1="261.66" x2="34.1" y2="261.66" stroke="#333" stroke-width="0.9"/>
<line x1="31.5" y1="251.78" x2="34.1" y2="251.78" stroke="#333" stroke-width="0.9"/>
<line x1="32.6" y1="241.89" x2="34.1" y2="241.89" stroke="#333" stroke-width="0.9"/>
<line x1="31.5" y1="232" x2="34.1" y2="232" stroke="#333" stroke-width="0.9"/>
<text x="29" y="392.4" text-anchor="end" class="tl" textLength="6.7" lengthAdjust="spacingAndGlyphs">20</text>
<text x="29" y="372.62" text-anchor="end" class="tl" textLength="6.7" lengthAdjust="spacingAndGlyphs">30</text>
<text x="29" y="352.85" text-anchor="end" class="tl" textLength="6.7" lengthAdjust="spacingAndGlyphs">40</text>
<text x="29" y="333.07" text-anchor="end" class="tl" textLength="6.7" lengthAdjust="spacingAndGlyphs">50</text>
<text x="29" y="313.3" text-anchor="end" class="tl" textLength="6.7" lengthAdjust="spacingAndGlyphs">60</text>
<text x="29" y="293.52" text-anchor="end" class="tl" textLength="6.7" lengthAdjust="spacingAndGlyphs">70</text>
<text x="29" y="273.75" text-anchor="end" class="tl" textLength="6.7" lengthAdjust="spacingAndGlyphs">80</text>
<text x="29" y="253.97" text-anchor="end" class="tl" textLength="6.7" lengthAdjust="spacingAndGlyphs">90</text>
<text x="29" y="234.2" text-anchor="end" class="tl" textLength="10.05" lengthAdjust="spacingAndGlyphs">100</text>
<line x1="42.2" y1="390.2" x2="42.2" y2="391.7" stroke="#333" stroke-width="0.9"/>
<line x1="55.69" y1="390.2" x2="55.69" y2="392.8" stroke="#333" stroke-width="0.9"/>
<text x="55.69" y="400.6" text-anchor="middle" class="tl" textLength="10.05" lengthAdjust="spacingAndGlyphs">100</text>
<line x1="69.18" y1="390.2" x2="69.18" y2="391.7" stroke="#333" stroke-width="0.9"/>
<line x1="82.68" y1="390.2" x2="82.68" y2="392.8" stroke="#333" stroke-width="0.9"/>
<text x="82.68" y="400.6" text-anchor="middle" class="tl" textLength="10.05" lengthAdjust="spacingAndGlyphs">200</text>
<line x1="96.17" y1="390.2" x2="96.17" y2="391.7" stroke="#333" stroke-width="0.9"/>
<line x1="109.66" y1="390.2" x2="109.66" y2="392.8" stroke="#333" stroke-width="0.9"/>
<text x="109.66" y="400.6" text-anchor="middle" class="tl" textLength="10.05" lengthAdjust="spacingAndGlyphs">300</text>
<line x1="123.15" y1="390.2" x2="123.15" y2="391.7" stroke="#333" stroke-width="0.9"/>
<line x1="136.65" y1="390.2" x2="136.65" y2="392.8" stroke="#333" stroke-width="0.9"/>
<text x="136.65" y="400.6" text-anchor="middle" class="tl" textLength="10.05" lengthAdjust="spacingAndGlyphs">400</text>
<line x1="150.14" y1="390.2" x2="150.14" y2="391.7" stroke="#333" stroke-width="0.9"/>
<line x1="163.63" y1="390.2" x2="163.63" y2="392.8" stroke="#333" stroke-width="0.9"/>
<text x="163.63" y="400.6" text-anchor="middle" class="tl" textLength="10.05" lengthAdjust="spacingAndGlyphs">500</text>
<line x1="177.13" y1="390.2" x2="177.13" y2="391.7" stroke="#333" stroke-width="0.9"/>
<line x1="190.62" y1="390.2" x2="190.62" y2="392.8" stroke="#333" stroke-width="0.9"/>
<text x="190.62" y="400.6" text-anchor="middle" class="tl" textLength="10.05" lengthAdjust="spacingAndGlyphs">600</text>
<line x1="204.11" y1="390.2" x2="204.11" y2="391.7" stroke="#333" stroke-width="0.9"/>
<line x1="217.61" y1="390.2" x2="217.61" y2="392.8" stroke="#333" stroke-width="0.9"/>
<text x="217.61" y="400.6" text-anchor="middle" class="tl" textLength="10.05" lengthAdjust="spacingAndGlyphs">700</text>
<line x1="231.1" y1="232" x2="231.1" y2="390.2" stroke="#ff2020" stroke-width="1.2"/>
<line x1="231.1" y1="390.2" x2="233.7" y2="390.2" stroke="#ff2020" stroke-width="0.9"/>
<line x1="231.1" y1="381.41" x2="232.6" y2="381.41" stroke="#ff2020" stroke-width="0.9"/>
<line x1="231.1" y1="372.62" x2="233.7" y2="372.62" stroke="#ff2020" stroke-width="0.9"/>
<line x1="231.1" y1="363.83" x2="232.6" y2="363.83" stroke="#ff2020" stroke-width="0.9"/>
<line x1="231.1" y1="355.04" x2="233.7" y2="355.04" stroke="#ff2020" stroke-width="0.9"/>
<line x1="231.1" y1="346.26" x2="232.6" y2="346.26" stroke="#ff2020" stroke-width="0.9"/>
<line x1="231.1" y1="337.47" x2="233.7" y2="337.47" stroke="#ff2020" stroke-width="0.9"/>
<line x1="231.1" y1="328.68" x2="232.6" y2="328.68" stroke="#ff2020" stroke-width="0.9"/>
<line x1="231.1" y1="319.89" x2="233.7" y2="319.89" stroke="#ff2020" stroke-width="0.9"/>
<line x1="231.1" y1="311.1" x2="232.6" y2="311.1" stroke="#ff2020" stroke-width="0.9"/>
<line x1="231.1" y1="302.31" x2="233.7" y2="302.31" stroke="#ff2020" stroke-width="0.9"/>
<line x1="231.1" y1="293.52" x2="232.6" y2="293.52" stroke="#ff2020" stroke-width="0.9"/>
<line x1="231.1" y1="284.73" x2="233.7" y2="284.73" stroke="#ff2020" stroke-width="0.9"/>
<line x1="231.1" y1="275.94" x2="232.6" y2="275.94" stroke="#ff2020" stroke-width="0.9"/>
<line x1="231.1" y1="267.16" x2="233.7" y2="267.16" stroke="#ff2020" stroke-width="0.9"/>
<line x1="231.1" y1="258.37" x2="232.6" y2="258.37" stroke="#ff2020" stroke-width="0.9"/>
<line x1="231.1" y1="249.58" x2="233.7" y2="249.58" stroke="#ff2020" stroke-width="0.9"/>
<line x1="231.1" y1="240.79" x2="232.6" y2="240.79" stroke="#ff2020" stroke-width="0.9"/>
<line x1="231.1" y1="232" x2="233.7" y2="232" stroke="#ff2020" stroke-width="0.9"/>
<text x="236.5" y="392.1" class="tr" textLength="5.65" lengthAdjust="spacingAndGlyphs">-1</text>
<text x="236.5" y="374.52" class="tr" textLength="3.35" lengthAdjust="spacingAndGlyphs">0</text>
<text x="236.5" y="356.94" class="tr" textLength="3.35" lengthAdjust="spacingAndGlyphs">1</text>
<text x="236.5" y="339.37" class="tr" textLength="3.35" lengthAdjust="spacingAndGlyphs">2</text>
<text x="236.5" y="321.79" class="tr" textLength="3.35" lengthAdjust="spacingAndGlyphs">3</text>
<text x="236.5" y="304.21" class="tr" textLength="3.35" lengthAdjust="spacingAndGlyphs">4</text>
<text x="236.5" y="286.63" class="tr" textLength="3.35" lengthAdjust="spacingAndGlyphs">5</text>
<text x="236.5" y="269.06" class="tr" textLength="3.35" lengthAdjust="spacingAndGlyphs">6</text>
<text x="236.5" y="251.48" class="tr" textLength="3.35" lengthAdjust="spacingAndGlyphs">7</text>
<text x="236.5" y="233.9" class="tr" textLength="3.35" lengthAdjust="spacingAndGlyphs">8</text>
<text x="121.7" y="236.3" text-anchor="middle" class="ti" textLength="21.2" lengthAdjust="spacingAndGlyphs">MW</text>
<text transform="translate(12.5,311.1) rotate(-90)" text-anchor="middle" class="al" textLength="57.1" lengthAdjust="spacingAndGlyphs">Weight loss (%)</text>
<text transform="translate(254.1,310.8) rotate(-90)" text-anchor="middle" class="ar" textLength="83.6" lengthAdjust="spacingAndGlyphs">Deriv. Weight (%/min)</text>
<text x="132.6" y="415.6" text-anchor="middle" class="al" textLength="64" lengthAdjust="spacingAndGlyphs">Temperature (&#176;C)</text>
<path d="M322.8,232C323.5,232.43 324.36,232.63 324.9,233.3C325.58,234.13 325.65,235.82 326.2,236.9C326.7,237.9 327.21,239 328,239.6C328.74,240.16 329.63,240.27 330.7,240.5C332.2,240.83 333.83,240.91 336.2,241.1C340.5,241.44 348.35,241.58 354.4,242C360.45,242.42 367.51,242.83 372.5,243.6C376.07,244.15 378.77,244.7 381.6,245.6C384.21,246.43 386.86,247.32 388.9,248.7C390.75,249.95 392.27,251.6 393.5,253.3C394.68,254.94 395.33,256.81 396.2,258.7C397.13,260.73 397.88,263.32 398.9,265.1C399.72,266.53 400.46,267.49 401.6,268.7C403.04,270.22 405.27,271.78 407.1,273.3C408.91,274.81 410.73,276.18 412.5,277.8C414.36,279.5 416.29,281.34 418,283.3C419.73,285.27 421.1,287.24 422.8,289.6C424.89,292.5 427.27,295.9 429.5,299.5C432.03,303.58 434.91,308.19 437.1,312.9C439.36,317.75 441.21,323.05 442.8,328.2C444.36,333.26 445.62,338.76 446.6,343.5C447.44,347.56 448.01,351.26 448.5,354.9C448.95,358.23 448.9,361.74 449.5,364.5C449.97,366.68 450.18,369.01 451.4,370.2C452.51,371.29 454.03,371.35 456.2,371.7C460.42,372.39 467.64,372.02 475.3,372.1C486.86,372.22 504.3,372.1 518.8,372.1" fill="none" stroke="#505050" stroke-width="1.1" stroke-linejoin="round"/>
<path d="M322.8,232C323.5,232.5 324.36,232.71 324.9,233.5C325.67,234.64 325.65,237.1 326.2,238.7C326.7,240.14 327.14,241.77 328,242.7C328.72,243.48 329.6,243.82 330.7,244.2C332.18,244.71 333.83,244.82 336.2,245.1C340.5,245.6 348.35,245.88 354.4,246.4C360.45,246.92 367.02,247.23 372.5,248.2C377.17,249.03 381.7,250.15 385.3,251.5C388.11,252.55 390.67,253.38 392.5,255.1C394.26,256.75 395.09,259.44 396.2,261.5C397.2,263.36 397.87,265.47 398.9,266.9C399.72,268.04 400.51,268.62 401.6,269.6C403.08,270.93 405.29,272.5 407.1,274C408.92,275.5 410.73,276.95 412.5,278.6C414.36,280.34 415.97,282.33 418,284.2C420.28,286.3 422.96,287.78 425.6,290.5C429.23,294.25 433.81,300.38 437.1,305.3C440.08,309.75 442.39,314.3 444.7,318.6C446.82,322.54 448.78,326.06 450.5,330.1C452.3,334.34 453.9,339.19 455.2,343.5C456.39,347.43 457.14,351.09 458.1,354.9C459.07,358.72 459.75,363.02 461,366.4C462.06,369.26 463.1,372.43 464.8,374C466.11,375.21 467.03,375.41 469.5,375.9C477.19,377.43 502.37,376.17 518.8,376.3" fill="none" stroke="#585858" stroke-width="1.0" stroke-linejoin="round" stroke-dasharray="2.6,0.9"/>
<path d="M324.4,369.1C324.62,365.68 325.2,354.72 325.5,352C325.7,350.19 326.51,344.5 326.7,344.5C326.88,344.5 327.28,349.59 327.4,351C327.54,352.65 327.76,358.2 328,360C328.24,361.82 329.2,367.74 329.8,369.1C330.22,370.04 331.7,372.23 332.5,372.7C333.53,373.3 338.09,373.49 339.8,373.6C342.22,373.75 351.32,373.68 354.4,373.6C357.83,373.51 369.2,373.06 372.5,372.7C375.29,372.39 383.33,371.22 385.3,370.5C386.67,370 389.76,368.22 390.7,367.3C391.81,366.22 394.56,361.5 395.3,360C396,358.58 397.47,354.21 398,352.7C398.55,351.11 400.29,344.48 400.7,344.5C401.06,344.52 401.75,349.45 402,350.9C402.32,352.79 403.02,360.22 403.5,361.8C403.79,362.77 404.73,365.11 405.3,365.5C405.83,365.87 408.04,365.95 408.9,365.8C410.33,365.55 416.29,362.53 418,361.6C419.62,360.72 424.07,357.76 425.6,356.8C427.13,355.84 431.91,353 433.3,352C434.56,351.09 438.04,348.37 439,347.3C439.93,346.26 442.07,342.76 442.8,341.5C443.6,340.1 446.09,335.47 446.6,333.9C447.1,332.37 447.71,328.05 447.9,326C448.25,322.31 448.51,306.13 448.6,300C448.73,291.21 447.95,247.35 448.8,246.5C448.87,246.43 449.13,246.43 449.2,246.5C450.05,247.35 449.34,288.72 449.4,300C449.46,312.56 448.49,360.44 449.8,366.4C450.2,368.23 451.48,371.34 452.4,372.1C453.42,372.95 457.74,373.72 460,374C466.22,374.77 507.28,374 519.1,374" fill="none" stroke="#ff4040" stroke-width="1.05" stroke-linejoin="round"/>
<path d="M324.4,332.7C324.47,338.47 324.57,344.09 324.6,350C324.64,356.21 323.25,367.84 324.6,369.1C324.97,369.44 325.52,369.19 326,369C326.65,368.73 327.35,367.19 328,367.3C328.92,367.45 329.47,370.78 330.7,371.8C331.85,372.75 333.01,373.03 335,373.4C339.1,374.16 348.05,373.73 354.4,373.6C360.54,373.48 367,373.31 372.5,372.7C377.15,372.19 382.02,371.71 385.3,370.5C387.58,369.66 389.13,368.83 390.7,367.3C392.54,365.5 394.07,362.5 395.3,360C396.47,357.63 397.12,355.21 398,352.7C398.92,350.05 400.01,344.46 400.7,344.5C401.3,344.54 401.59,348.48 402,350.9C402.54,354.05 402.76,358.97 403.5,361.8C403.99,363.69 404.27,365.67 405.3,366.4C406.18,367.02 407.44,366.64 408.9,366.5C411.25,366.28 415,365.57 418,364.5C421.21,363.36 424.32,361.3 427.5,359.7C430.69,358.1 433.85,356.2 437.1,354.9C440.22,353.65 443.8,352.64 446.6,352C448.75,351.51 451.11,352.28 452.4,351.1C453.89,349.74 453.72,346.31 454.3,343.5C455.01,340.08 455.49,335.42 456.2,332C456.78,329.19 457.47,324.4 458.1,324.4C458.73,324.4 459.49,328.76 460,332C460.87,337.55 460.91,348.58 461.5,354.9C461.92,359.39 461.98,363.29 462.9,366.4C463.58,368.7 464.24,370.83 465.7,372.1C467.13,373.34 468.58,373.53 471.5,374C479.66,375.3 503.23,374 519.1,374" fill="none" stroke="#ff5555" stroke-width="0.95" stroke-linejoin="round" stroke-dasharray="2,1.1"/>
<line x1="322.6" y1="232" x2="322.6" y2="391.1" stroke="#6e6e6e" stroke-width="1.8"/>
<line x1="321.7" y1="390.2" x2="519.1" y2="390.2" stroke="#6e6e6e" stroke-width="1.8"/>
<line x1="320" y1="390.2" x2="322.6" y2="390.2" stroke="#333" stroke-width="0.9"/>
<line x1="321.1" y1="380.31" x2="322.6" y2="380.31" stroke="#333" stroke-width="0.9"/>
<line x1="320" y1="370.43" x2="322.6" y2="370.43" stroke="#333" stroke-width="0.9"/>
<line x1="321.1" y1="360.54" x2="322.6" y2="360.54" stroke="#333" stroke-width="0.9"/>
<line x1="320" y1="350.65" x2="322.6" y2="350.65" stroke="#333" stroke-width="0.9"/>
<line x1="321.1" y1="340.76" x2="322.6" y2="340.76" stroke="#333" stroke-width="0.9"/>
<line x1="320" y1="330.88" x2="322.6" y2="330.88" stroke="#333" stroke-width="0.9"/>
<line x1="321.1" y1="320.99" x2="322.6" y2="320.99" stroke="#333" stroke-width="0.9"/>
<line x1="320" y1="311.1" x2="322.6" y2="311.1" stroke="#333" stroke-width="0.9"/>
<line x1="321.1" y1="301.21" x2="322.6" y2="301.21" stroke="#333" stroke-width="0.9"/>
<line x1="320" y1="291.32" x2="322.6" y2="291.32" stroke="#333" stroke-width="0.9"/>
<line x1="321.1" y1="281.44" x2="322.6" y2="281.44" stroke="#333" stroke-width="0.9"/>
<line x1="320" y1="271.55" x2="322.6" y2="271.55" stroke="#333" stroke-width="0.9"/>
<line x1="321.1" y1="261.66" x2="322.6" y2="261.66" stroke="#333" stroke-width="0.9"/>
<line x1="320" y1="251.78" x2="322.6" y2="251.78" stroke="#333" stroke-width="0.9"/>
<line x1="321.1" y1="241.89" x2="322.6" y2="241.89" stroke="#333" stroke-width="0.9"/>
<line x1="320" y1="232" x2="322.6" y2="232" stroke="#333" stroke-width="0.9"/>
<text x="317.5" y="392.4" text-anchor="end" class="tl" textLength="6.7" lengthAdjust="spacingAndGlyphs">20</text>
<text x="317.5" y="372.62" text-anchor="end" class="tl" textLength="6.7" lengthAdjust="spacingAndGlyphs">30</text>
<text x="317.5" y="352.85" text-anchor="end" class="tl" textLength="6.7" lengthAdjust="spacingAndGlyphs">40</text>
<text x="317.5" y="333.07" text-anchor="end" class="tl" textLength="6.7" lengthAdjust="spacingAndGlyphs">50</text>
<text x="317.5" y="313.3" text-anchor="end" class="tl" textLength="6.7" lengthAdjust="spacingAndGlyphs">60</text>
<text x="317.5" y="293.52" text-anchor="end" class="tl" textLength="6.7" lengthAdjust="spacingAndGlyphs">70</text>
<text x="317.5" y="273.75" text-anchor="end" class="tl" textLength="6.7" lengthAdjust="spacingAndGlyphs">80</text>
<text x="317.5" y="253.97" text-anchor="end" class="tl" textLength="6.7" lengthAdjust="spacingAndGlyphs">90</text>
<text x="317.5" y="234.2" text-anchor="end" class="tl" textLength="10.05" lengthAdjust="spacingAndGlyphs">100</text>
<line x1="330.68" y1="390.2" x2="330.68" y2="391.7" stroke="#333" stroke-width="0.9"/>
<line x1="344.13" y1="390.2" x2="344.13" y2="392.8" stroke="#333" stroke-width="0.9"/>
<text x="344.13" y="400.4" text-anchor="middle" class="tl" textLength="10.05" lengthAdjust="spacingAndGlyphs">100</text>
<line x1="357.59" y1="390.2" x2="357.59" y2="391.7" stroke="#333" stroke-width="0.9"/>
<line x1="371.05" y1="390.2" x2="371.05" y2="392.8" stroke="#333" stroke-width="0.9"/>
<text x="371.05" y="400.4" text-anchor="middle" class="tl" textLength="10.05" lengthAdjust="spacingAndGlyphs">200</text>
<line x1="384.51" y1="390.2" x2="384.51" y2="391.7" stroke="#333" stroke-width="0.9"/>
<line x1="397.97" y1="390.2" x2="397.97" y2="392.8" stroke="#333" stroke-width="0.9"/>
<text x="397.97" y="400.4" text-anchor="middle" class="tl" textLength="10.05" lengthAdjust="spacingAndGlyphs">300</text>
<line x1="411.43" y1="390.2" x2="411.43" y2="391.7" stroke="#333" stroke-width="0.9"/>
<line x1="424.89" y1="390.2" x2="424.89" y2="392.8" stroke="#333" stroke-width="0.9"/>
<text x="424.89" y="400.4" text-anchor="middle" class="tl" textLength="10.05" lengthAdjust="spacingAndGlyphs">400</text>
<line x1="438.35" y1="390.2" x2="438.35" y2="391.7" stroke="#333" stroke-width="0.9"/>
<line x1="451.81" y1="390.2" x2="451.81" y2="392.8" stroke="#333" stroke-width="0.9"/>
<text x="451.81" y="400.4" text-anchor="middle" class="tl" textLength="10.05" lengthAdjust="spacingAndGlyphs">500</text>
<line x1="465.26" y1="390.2" x2="465.26" y2="391.7" stroke="#333" stroke-width="0.9"/>
<line x1="478.72" y1="390.2" x2="478.72" y2="392.8" stroke="#333" stroke-width="0.9"/>
<text x="478.72" y="400.4" text-anchor="middle" class="tl" textLength="10.05" lengthAdjust="spacingAndGlyphs">600</text>
<line x1="492.18" y1="390.2" x2="492.18" y2="391.7" stroke="#333" stroke-width="0.9"/>
<line x1="505.64" y1="390.2" x2="505.64" y2="392.8" stroke="#333" stroke-width="0.9"/>
<text x="505.64" y="400.4" text-anchor="middle" class="tl" textLength="10.05" lengthAdjust="spacingAndGlyphs">700</text>
<line x1="519.1" y1="232" x2="519.1" y2="390.2" stroke="#ff2020" stroke-width="1.2"/>
<line x1="519.1" y1="390.2" x2="521.7" y2="390.2" stroke="#ff2020" stroke-width="0.9"/>
<line x1="519.1" y1="382.29" x2="520.6" y2="382.29" stroke="#ff2020" stroke-width="0.9"/>
<line x1="519.1" y1="374.38" x2="521.7" y2="374.38" stroke="#ff2020" stroke-width="0.9"/>
<line x1="519.1" y1="366.47" x2="520.6" y2="366.47" stroke="#ff2020" stroke-width="0.9"/>
<line x1="519.1" y1="358.56" x2="521.7" y2="358.56" stroke="#ff2020" stroke-width="0.9"/>
<line x1="519.1" y1="350.65" x2="520.6" y2="350.65" stroke="#ff2020" stroke-width="0.9"/>
<line x1="519.1" y1="342.74" x2="521.7" y2="342.74" stroke="#ff2020" stroke-width="0.9"/>
<line x1="519.1" y1="334.83" x2="520.6" y2="334.83" stroke="#ff2020" stroke-width="0.9"/>
<line x1="519.1" y1="326.92" x2="521.7" y2="326.92" stroke="#ff2020" stroke-width="0.9"/>
<line x1="519.1" y1="319.01" x2="520.6" y2="319.01" stroke="#ff2020" stroke-width="0.9"/>
<line x1="519.1" y1="311.1" x2="521.7" y2="311.1" stroke="#ff2020" stroke-width="0.9"/>
<line x1="519.1" y1="303.19" x2="520.6" y2="303.19" stroke="#ff2020" stroke-width="0.9"/>
<line x1="519.1" y1="295.28" x2="521.7" y2="295.28" stroke="#ff2020" stroke-width="0.9"/>
<line x1="519.1" y1="287.37" x2="520.6" y2="287.37" stroke="#ff2020" stroke-width="0.9"/>
<line x1="519.1" y1="279.46" x2="521.7" y2="279.46" stroke="#ff2020" stroke-width="0.9"/>
<line x1="519.1" y1="271.55" x2="520.6" y2="271.55" stroke="#ff2020" stroke-width="0.9"/>
<line x1="519.1" y1="263.64" x2="521.7" y2="263.64" stroke="#ff2020" stroke-width="0.9"/>
<line x1="519.1" y1="255.73" x2="520.6" y2="255.73" stroke="#ff2020" stroke-width="0.9"/>
<line x1="519.1" y1="247.82" x2="521.7" y2="247.82" stroke="#ff2020" stroke-width="0.9"/>
<line x1="519.1" y1="239.91" x2="520.6" y2="239.91" stroke="#ff2020" stroke-width="0.9"/>
<line x1="519.1" y1="232" x2="521.7" y2="232" stroke="#ff2020" stroke-width="0.9"/>
<text x="524.5" y="392.1" class="tr" textLength="5.65" lengthAdjust="spacingAndGlyphs">-2</text>
<text x="524.5" y="376.28" class="tr" textLength="3.35" lengthAdjust="spacingAndGlyphs">0</text>
<text x="524.5" y="360.46" class="tr" textLength="3.35" lengthAdjust="spacingAndGlyphs">2</text>
<text x="524.5" y="344.64" class="tr" textLength="3.35" lengthAdjust="spacingAndGlyphs">4</text>
<text x="524.5" y="328.82" class="tr" textLength="3.35" lengthAdjust="spacingAndGlyphs">6</text>
<text x="524.5" y="313" class="tr" textLength="3.35" lengthAdjust="spacingAndGlyphs">8</text>
<text x="524.5" y="297.18" class="tr" textLength="6.7" lengthAdjust="spacingAndGlyphs">10</text>
<text x="524.5" y="281.36" class="tr" textLength="6.7" lengthAdjust="spacingAndGlyphs">12</text>
<text x="524.5" y="265.54" class="tr" textLength="6.7" lengthAdjust="spacingAndGlyphs">14</text>
<text x="524.5" y="249.72" class="tr" textLength="6.7" lengthAdjust="spacingAndGlyphs">16</text>
<text x="524.5" y="233.9" class="tr" textLength="6.7" lengthAdjust="spacingAndGlyphs">18</text>
<text x="410" y="225.4" text-anchor="middle" class="ti" textLength="19.7" lengthAdjust="spacingAndGlyphs">WA</text>
<text transform="translate(300.4,311.1) rotate(-90)" text-anchor="middle" class="al" textLength="57.1" lengthAdjust="spacingAndGlyphs">Weight loss (%)</text>
<text transform="translate(542.1,310.8) rotate(-90)" text-anchor="middle" class="ar" textLength="83.6" lengthAdjust="spacingAndGlyphs">Deriv. Weight (%/min)</text>
<text x="420.85" y="415.4" text-anchor="middle" class="al" textLength="64" lengthAdjust="spacingAndGlyphs">Temperature (&#176;C)</text>
<path d="M189.8,452.4C190.67,453.3 191.5,454.27 192.4,455.1C193.27,455.9 194.08,456.75 195.1,457.3C196.17,457.87 197.36,458.11 198.7,458.4C200.33,458.75 201.83,458.88 204.2,459.1C208.5,459.5 216.34,459.8 222.4,460.2C228.44,460.6 235,460.92 240.5,461.5C245.14,461.99 249.97,462.52 253.3,463.3C255.51,463.82 257.19,464.06 258.7,465.1C260.23,466.15 261.34,467.96 262.4,469.6C263.48,471.28 264.16,473.38 265.1,475.1C265.97,476.69 266.59,478.19 267.8,479.6C269.21,481.25 271.29,482.74 273.3,484.2C275.49,485.79 278.31,487.11 280.5,488.7C282.51,490.16 283.92,491.55 286,493.3C288.74,495.62 292.45,498.33 295.5,501.4C298.84,504.76 302.72,509.5 305.1,512.8C306.76,515.11 307.63,516.95 308.9,519C310.16,521.02 311.45,522.95 312.7,525C313.99,527.11 315.14,529.01 316.5,531.5C318.27,534.75 320.58,538.89 322.3,542.9C324.11,547.13 325.51,552.01 327,556.3C328.37,560.25 329.41,564.11 330.9,567.7C332.3,571.08 333.45,574.71 335.6,577.3C337.64,579.75 340.45,581.67 343.3,583C346.18,584.35 348.63,584.76 352.8,585.3C360.51,586.29 375.07,585.7 386.2,585.9" fill="none" stroke="#505050" stroke-width="1.1" stroke-linejoin="round"/>
<path d="M189.8,452.4C190.97,454.2 192.09,456.1 193.3,457.8C194.46,459.42 195.66,460.99 196.9,462.4C198.06,463.71 199.1,464.9 200.5,466C202.08,467.23 203.97,468.46 206,469.3C208.2,470.21 210.71,470.68 213.3,471.1C216.15,471.56 218.86,471.43 222.4,471.8C227.41,472.32 235,473.26 240.5,474.2C245.15,475 249.75,475.45 253.3,476.9C256.17,478.07 258.63,479.69 260.5,481.5C262.14,483.09 263.12,485.05 264.2,486.9C265.24,488.69 265.66,490.87 266.9,492.4C268.11,493.89 269.76,494.78 271.5,496C273.6,497.47 276.35,498.81 278.7,500.5C281.18,502.29 283.46,504.23 286,506.5C289.01,509.19 293.06,513.18 295.5,515.7C297.12,517.37 298.16,518.43 299.4,520C300.73,521.68 301.95,523.61 303.2,525.5C304.49,527.44 305.55,529.09 307,531.5C309.13,535.04 312.47,540.46 314.6,544.8C316.52,548.71 317.96,552.45 319.4,556.3C320.82,560.08 321.94,563.89 323.2,567.7C324.47,571.52 325.36,575.98 327,579.2C328.35,581.85 329.75,584.16 331.8,585.9C333.9,587.68 336.72,588.85 339.5,589.7C342.43,590.6 344.78,590.7 349,591C357.31,591.59 373.8,591.13 386.2,591.2" fill="none" stroke="#585858" stroke-width="1.0" stroke-linejoin="round" stroke-dasharray="2.6,0.9"/>
<path d="M191,571.4C191.16,568.36 191.39,562.64 191.6,560C191.76,557.97 192.12,553.3 192.3,553.3C192.53,553.3 192.84,562.35 193.1,565C193.29,566.97 193.67,569.49 193.9,571.4C194.19,573.84 194.68,579.86 195.1,581.8C195.34,582.88 195.7,584.04 196.1,584.9C196.59,585.96 197.79,587.97 198.7,589.1C199.83,590.52 202.38,593.53 204.2,594.5C206.2,595.57 210.86,596.2 213.3,596.4C215.71,596.6 219.98,596.25 222.4,596C224.83,595.75 229.09,594.98 231.5,594.5C233.91,594.02 238.11,593.06 240.5,592.4C242.93,591.73 247.52,590.41 249.6,589.5C251.29,588.76 253.93,587.69 255.1,586.4C256.49,584.87 257.89,580.67 258.7,578.2C259.67,575.22 260.91,569.21 261.5,565.5C262.2,561.1 262.9,552.16 263.3,547.3C263.7,542.45 264.21,534.01 264.5,529.1C264.8,524.07 265.15,514.07 265.5,510C265.73,507.28 266.23,501.5 266.5,501.5C266.77,501.5 267.31,507.41 267.5,510C267.75,513.43 267.76,520.61 267.9,525C268.07,530.36 268.44,541.99 268.7,547.3C268.91,551.58 269.09,558.61 269.6,561.8C269.97,564.1 270.68,567.46 271.5,569.1C272.22,570.53 274.01,573.23 275.1,573.6C275.98,573.9 277.8,573.2 278.7,572.7C279.77,572.11 281.41,570.03 282.4,569.1C283.36,568.19 284.78,566.96 286,565.8C288.22,563.69 294.51,557.63 297.5,554.4C300.62,551.03 306.15,544.17 308.9,541C311.12,538.44 314.68,533.78 316.5,532.4C317.62,531.55 319.81,531.34 320.4,530.5C321,529.64 320.79,527.62 320.9,526C321.12,522.7 320.95,510.66 321.3,507.1C321.49,505.13 321.9,502.95 322.3,501.4C322.73,499.73 323.83,496.71 324.5,495C325.19,493.24 326.72,488.35 327.4,488.4C328.18,488.46 329.35,494.74 329.9,497.5C330.6,501.03 331.41,508.87 331.8,512.8C332.16,516.45 332.41,522.49 332.8,526C333.19,529.51 334.14,535.28 334.7,539.1C335.37,543.71 336.69,553.4 337.5,558.2C338.22,562.51 339.52,569.92 340.4,573.5C341.1,576.36 342.09,580.79 343.3,583C344.44,585.08 347.37,588.25 349,589.7C350.44,590.98 353.27,592.46 354.7,593.5C356.06,594.49 358.01,596.73 359.5,597.3C361.06,597.89 363.92,597.63 366.2,597.7C370.19,597.82 381.31,597.7 386.8,597.7" fill="none" stroke="#ff4040" stroke-width="1.05" stroke-linejoin="round"/>
<path d="M190.9,571.4C190.93,548.89 190.91,487 191,487C191.07,487 191.14,534.99 191.4,535C191.51,535 191.7,528.69 191.9,527C192.03,525.87 192.36,523.49 192.5,523.5C192.86,523.52 193.15,540.49 193.5,545.3C193.75,548.71 194.04,554.21 194.6,556.2C194.92,557.32 195.52,558.78 196.1,559.3C196.59,559.73 197.82,559.74 198.4,560.1C199.08,560.52 200.3,561.6 200.8,562.4C201.41,563.38 201.83,565.77 202.3,567.1C202.85,568.65 204.03,571.51 204.7,573.3C205.48,575.38 206.89,579.57 207.8,581.8C208.71,584.02 210.35,588.33 211.5,590C212.37,591.25 213.84,593.02 215.1,593.6C216.61,594.3 220.34,594.14 222.4,594.2C224.69,594.27 229.09,594.24 231.5,594C233.92,593.76 238.11,592.99 240.5,592.4C242.94,591.8 247.52,590.41 249.6,589.5C251.29,588.76 253.93,587.69 255.1,586.4C256.49,584.87 257.89,580.67 258.7,578.2C259.67,575.22 260.91,569.21 261.5,565.5C262.2,561.1 262.9,552.16 263.3,547.3C263.7,542.45 264.21,534.01 264.5,529.1C264.8,524.07 265.15,514.07 265.5,510C265.73,507.28 266.23,501.5 266.5,501.5C266.77,501.5 267.31,507.41 267.5,510C267.75,513.43 267.76,520.61 267.9,525C268.07,530.36 268.44,541.99 268.7,547.3C268.91,551.58 269.1,558.56 269.6,561.8C269.97,564.19 270.68,567.73 271.5,569.5C272.22,571.06 273.99,574.11 275.1,574.5C275.97,574.8 277.79,574.01 278.7,573.5C279.76,572.9 281.42,570.94 282.4,570C283.37,569.07 284.8,567.76 286,566.5C288.23,564.16 294.46,557.02 297.5,553.5C300.57,549.95 306.03,543.2 308.9,540C311.31,537.32 316.35,533.21 317.5,531C318.24,529.59 318.32,527.61 318.5,526C318.77,523.6 318.61,518.1 318.8,514.7C319.04,510.27 319.9,500.4 320.4,495.6C320.85,491.31 321.64,484.06 322.3,480.4C322.86,477.33 324.21,469.88 324.8,469.9C325.49,469.93 326.54,480.1 327,484.2C327.53,488.92 328.08,497.98 328.4,503.3C328.75,509.09 329.25,519.95 329.5,526C329.75,532.03 329.88,542.43 330.3,548.6C330.74,555.09 331.73,567.93 332.8,573.5C333.59,577.64 335.22,583.95 336.6,586.8C337.66,589 339.88,592.2 341.4,593.5C342.74,594.65 345.62,595.83 347.1,596.4C348.41,596.9 350.01,597.45 351.9,597.7C356.91,598.37 377.49,597.7 386.8,597.7" fill="none" stroke="#ff5555" stroke-width="0.95" stroke-linejoin="round" stroke-dasharray="2,1.1"/>
<line x1="189.8" y1="452.4" x2="189.8" y2="612.2" stroke="#6e6e6e" stroke-width="1.8"/>
<line x1="188.9" y1="611.3" x2="386.8" y2="611.3" stroke="#6e6e6e" stroke-width="1.8"/>
<line x1="188.3" y1="611.3" x2="189.8" y2="611.3" stroke="#333" stroke-width="0.9"/>
<line x1="187.2" y1="601.95" x2="189.8" y2="601.95" stroke="#333" stroke-width="0.9"/>
<line x1="188.3" y1="592.61" x2="189.8" y2="592.61" stroke="#333" stroke-width="0.9"/>
<line x1="187.2" y1="583.26" x2="189.8" y2="583.26" stroke="#333" stroke-width="0.9"/>
<line x1="188.3" y1="573.91" x2="189.8" y2="573.91" stroke="#333" stroke-width="0.9"/>
<line x1="187.2" y1="564.56" x2="189.8" y2="564.56" stroke="#333" stroke-width="0.9"/>
<line x1="188.3" y1="555.22" x2="189.8" y2="555.22" stroke="#333" stroke-width="0.9"/>
<line x1="187.2" y1="545.87" x2="189.8" y2="545.87" stroke="#333" stroke-width="0.9"/>
<line x1="188.3" y1="536.52" x2="189.8" y2="536.52" stroke="#333" stroke-width="0.9"/>
<line x1="187.2" y1="527.18" x2="189.8" y2="527.18" stroke="#333" stroke-width="0.9"/>
<line x1="188.3" y1="517.83" x2="189.8" y2="517.83" stroke="#333" stroke-width="0.9"/>
<line x1="187.2" y1="508.48" x2="189.8" y2="508.48" stroke="#333" stroke-width="0.9"/>
<line x1="188.3" y1="499.14" x2="189.8" y2="499.14" stroke="#333" stroke-width="0.9"/>
<line x1="187.2" y1="489.79" x2="189.8" y2="489.79" stroke="#333" stroke-width="0.9"/>
<line x1="188.3" y1="480.44" x2="189.8" y2="480.44" stroke="#333" stroke-width="0.9"/>
<line x1="187.2" y1="471.09" x2="189.8" y2="471.09" stroke="#333" stroke-width="0.9"/>
<line x1="188.3" y1="461.75" x2="189.8" y2="461.75" stroke="#333" stroke-width="0.9"/>
<line x1="187.2" y1="452.4" x2="189.8" y2="452.4" stroke="#333" stroke-width="0.9"/>
<text x="184.7" y="604.15" text-anchor="end" class="tl" textLength="6.7" lengthAdjust="spacingAndGlyphs">20</text>
<text x="184.7" y="585.46" text-anchor="end" class="tl" textLength="6.7" lengthAdjust="spacingAndGlyphs">30</text>
<text x="184.7" y="566.76" text-anchor="end" class="tl" textLength="6.7" lengthAdjust="spacingAndGlyphs">40</text>
<text x="184.7" y="548.07" text-anchor="end" class="tl" textLength="6.7" lengthAdjust="spacingAndGlyphs">50</text>
<text x="184.7" y="529.38" text-anchor="end" class="tl" textLength="6.7" lengthAdjust="spacingAndGlyphs">60</text>
<text x="184.7" y="510.68" text-anchor="end" class="tl" textLength="6.7" lengthAdjust="spacingAndGlyphs">70</text>
<text x="184.7" y="491.99" text-anchor="end" class="tl" textLength="6.7" lengthAdjust="spacingAndGlyphs">80</text>
<text x="184.7" y="473.29" text-anchor="end" class="tl" textLength="6.7" lengthAdjust="spacingAndGlyphs">90</text>
<text x="184.7" y="454.6" text-anchor="end" class="tl" textLength="10.05" lengthAdjust="spacingAndGlyphs">100</text>
<line x1="197.9" y1="611.3" x2="197.9" y2="612.8" stroke="#333" stroke-width="0.9"/>
<line x1="211.39" y1="611.3" x2="211.39" y2="613.9" stroke="#333" stroke-width="0.9"/>
<text x="211.39" y="621.1" text-anchor="middle" class="tl" textLength="10.05" lengthAdjust="spacingAndGlyphs">100</text>
<line x1="224.88" y1="611.3" x2="224.88" y2="612.8" stroke="#333" stroke-width="0.9"/>
<line x1="238.38" y1="611.3" x2="238.38" y2="613.9" stroke="#333" stroke-width="0.9"/>
<text x="238.38" y="621.1" text-anchor="middle" class="tl" textLength="10.05" lengthAdjust="spacingAndGlyphs">200</text>
<line x1="251.87" y1="611.3" x2="251.87" y2="612.8" stroke="#333" stroke-width="0.9"/>
<line x1="265.36" y1="611.3" x2="265.36" y2="613.9" stroke="#333" stroke-width="0.9"/>
<text x="265.36" y="621.1" text-anchor="middle" class="tl" textLength="10.05" lengthAdjust="spacingAndGlyphs">300</text>
<line x1="278.85" y1="611.3" x2="278.85" y2="612.8" stroke="#333" stroke-width="0.9"/>
<line x1="292.35" y1="611.3" x2="292.35" y2="613.9" stroke="#333" stroke-width="0.9"/>
<text x="292.35" y="621.1" text-anchor="middle" class="tl" textLength="10.05" lengthAdjust="spacingAndGlyphs">400</text>
<line x1="305.84" y1="611.3" x2="305.84" y2="612.8" stroke="#333" stroke-width="0.9"/>
<line x1="319.33" y1="611.3" x2="319.33" y2="613.9" stroke="#333" stroke-width="0.9"/>
<text x="319.33" y="621.1" text-anchor="middle" class="tl" textLength="10.05" lengthAdjust="spacingAndGlyphs">500</text>
<line x1="332.83" y1="611.3" x2="332.83" y2="612.8" stroke="#333" stroke-width="0.9"/>
<line x1="346.32" y1="611.3" x2="346.32" y2="613.9" stroke="#333" stroke-width="0.9"/>
<text x="346.32" y="621.1" text-anchor="middle" class="tl" textLength="10.05" lengthAdjust="spacingAndGlyphs">600</text>
<line x1="359.81" y1="611.3" x2="359.81" y2="612.8" stroke="#333" stroke-width="0.9"/>
<line x1="373.31" y1="611.3" x2="373.31" y2="613.9" stroke="#333" stroke-width="0.9"/>
<text x="373.31" y="621.1" text-anchor="middle" class="tl" textLength="10.05" lengthAdjust="spacingAndGlyphs">700</text>
<line x1="386.8" y1="452.4" x2="386.8" y2="611.3" stroke="#ff2020" stroke-width="1.2"/>
<line x1="386.8" y1="611.3" x2="388.3" y2="611.3" stroke="#ff2020" stroke-width="0.9"/>
<line x1="386.8" y1="598.06" x2="389.4" y2="598.06" stroke="#ff2020" stroke-width="0.9"/>
<line x1="386.8" y1="584.82" x2="388.3" y2="584.82" stroke="#ff2020" stroke-width="0.9"/>
<line x1="386.8" y1="571.57" x2="389.4" y2="571.57" stroke="#ff2020" stroke-width="0.9"/>
<line x1="386.8" y1="558.33" x2="388.3" y2="558.33" stroke="#ff2020" stroke-width="0.9"/>
<line x1="386.8" y1="545.09" x2="389.4" y2="545.09" stroke="#ff2020" stroke-width="0.9"/>
<line x1="386.8" y1="531.85" x2="388.3" y2="531.85" stroke="#ff2020" stroke-width="0.9"/>
<line x1="386.8" y1="518.61" x2="389.4" y2="518.61" stroke="#ff2020" stroke-width="0.9"/>
<line x1="386.8" y1="505.37" x2="388.3" y2="505.37" stroke="#ff2020" stroke-width="0.9"/>
<line x1="386.8" y1="492.12" x2="389.4" y2="492.12" stroke="#ff2020" stroke-width="0.9"/>
<line x1="386.8" y1="478.88" x2="388.3" y2="478.88" stroke="#ff2020" stroke-width="0.9"/>
<line x1="386.8" y1="465.64" x2="389.4" y2="465.64" stroke="#ff2020" stroke-width="0.9"/>
<line x1="386.8" y1="452.4" x2="388.3" y2="452.4" stroke="#ff2020" stroke-width="0.9"/>
<text x="392.2" y="599.96" class="tr" textLength="3.35" lengthAdjust="spacingAndGlyphs">0</text>
<text x="392.2" y="573.47" class="tr" textLength="3.35" lengthAdjust="spacingAndGlyphs">1</text>
<text x="392.2" y="546.99" class="tr" textLength="3.35" lengthAdjust="spacingAndGlyphs">2</text>
<text x="392.2" y="520.51" class="tr" textLength="3.35" lengthAdjust="spacingAndGlyphs">3</text>
<text x="392.2" y="494.02" class="tr" textLength="3.35" lengthAdjust="spacingAndGlyphs">4</text>
<text x="392.2" y="467.54" class="tr" textLength="3.35" lengthAdjust="spacingAndGlyphs">5</text>
<text x="282.4" y="456.4" text-anchor="middle" class="ti" textLength="80.5" lengthAdjust="spacingAndGlyphs">WA-Microwave</text>
<text transform="translate(167.5,531.85) rotate(-90)" text-anchor="middle" class="al" textLength="57.1" lengthAdjust="spacingAndGlyphs">Weight loss (%)</text>
<text transform="translate(409.8,531.55) rotate(-90)" text-anchor="middle" class="ar" textLength="83.6" lengthAdjust="spacingAndGlyphs">Deriv. Weight (%/min)</text>
<text x="288.3" y="636.9" text-anchor="middle" class="al" textLength="64" lengthAdjust="spacingAndGlyphs">Temperature (&#176;C)</text>
</svg></body></html>
